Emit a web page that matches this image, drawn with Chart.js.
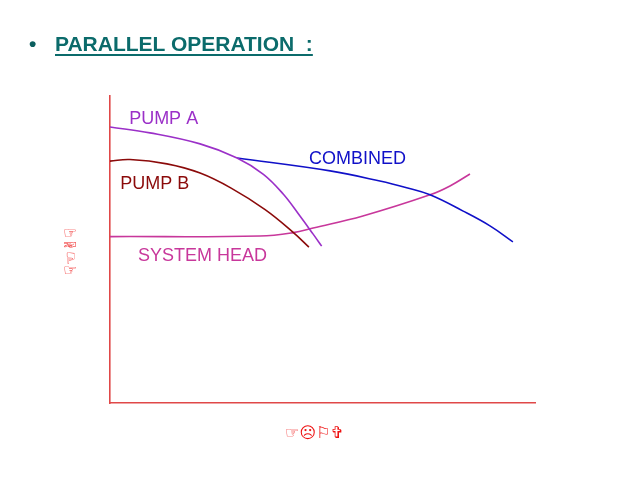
<!DOCTYPE html>
<html>
<head>
<meta charset="utf-8">
<script src="https://cdn.jsdelivr.net/npm/chart.js@4/dist/chart.umd.min.js"></script>
<style>
  html, body { margin: 0; padding: 0; background: #fff; }
  #wrap { position: relative; width: 638px; height: 478px; }
  #wrap canvas { position: absolute; left: 0; top: 0; }
  #title {
    position: absolute; left: 29px; top: 32px;
    font: bold 21px "Liberation Sans", Arial, sans-serif;
    color: #0b6b6b; white-space: pre;
  }
  #title .bullet { display: inline-block; width: 26px; color: #0b5f5f; }
  #title .text { text-decoration: underline; text-underline-offset: 3px; text-decoration-thickness: 2px; }
</style>
</head>
<body>
<div id="wrap">
  <canvas id="chart" width="638" height="478"></canvas>
  <div id="title"><span class="bullet">•</span><span class="text">PARALLEL OPERATION  :</span></div>
</div>
<script>
// flow (x) and head (y), 0..100 on both axes
const pumpAFlow = [0, 9.4, 21.2, 29.9, 36.1, 40.8, 44.7, 47.8, 49.8]
const pumpAHead = [89.9, 88.0, 84.4, 79.8, 74.5, 68.0, 60.9, 55.0, 51.1]

const pumpBFlow = [0, 4.7, 13.4, 21.2, 28.5, 36.5, 43.1, 46.8]
const pumpBHead = [78.8, 79.3, 77.9, 74.9, 70.0, 63.0, 55.6, 50.8]

const combinedFlow = [29.9, 51.8, 63.5, 69.8, 75.3, 83.1, 89.4, 94.8]
const combinedHead = [79.8, 75.6, 72.3, 70.1, 67.8, 62.5, 57.7, 52.5]

const systemFlow = [0, 35.3, 43.1, 47.8, 59.5, 75.3, 80.0, 84.7]
const systemHead = [54.2, 54.4, 55.5, 57.0, 60.9, 67.8, 70.7, 74.6]

const xTitle = '☞☹⚐✞'   // "FLOW" set in a symbol font
const yTitle = '☟☜✌☟'   // "HEAD" set in a symbol font

const toPoints = (xs, ys) => xs.map((x, i) => ({ x: x, y: ys[i] }))

const curve = (label, xs, ys, color) => ({
  label: label,
  data: toPoints(xs, ys),
  borderColor: color,
  backgroundColor: color,
  borderWidth: 1.6,
  pointRadius: 0,
  showLine: true,
  tension: 0.4,
})

// curve names are written next to the lines, axis titles under / beside the axes
const curveLabels = {
  id: 'curveLabels',
  afterDraw(chart) {
    const ctx = chart.ctx
    const xs = chart.scales.x
    const ys = chart.scales.y
    const area = chart.chartArea
    const names = [
      ['PUMP A', 4.5, 92.5, '#9b30c8'],
      ['COMBINED', 46.8, 79.5, '#1010c8'],
      ['PUMP B', 2.4, 71.3, '#8b0a0a'],
      ['SYSTEM HEAD', 6.6, 47.9, '#c8379b'],
    ]
    ctx.save()
    ctx.font = '18px "Liberation Sans", Arial, sans-serif'
    ctx.textBaseline = 'middle'
    ctx.textAlign = 'left'
    names.forEach(([text, x, y, color]) => {
      ctx.fillStyle = color
      ctx.fillText(text, xs.getPixelForValue(x), ys.getPixelForValue(y))
    })

    ctx.fillStyle = '#ee1111'
    ctx.font = 'bold 16px "DejaVu Sans", sans-serif'
    ctx.textAlign = 'center'
    ctx.fillText(xTitle, (area.left + area.right) / 2 - 8, area.bottom + 31)

    ctx.translate(area.left - 38, (area.top + area.bottom) / 2 + 2)
    ctx.rotate(-Math.PI / 2)
    ctx.fillText(yTitle, 0, 0)
    ctx.restore()
  }
}

const axisStyle = {
  min: 0,
  max: 100,
  ticks: { display: false },
  grid: { display: false },
  border: { color: '#e04848', width: 1.6 },
}

new Chart(document.getElementById('chart'), {
  type: 'scatter',
  data: {
    datasets: [
      curve('PUMP A', pumpAFlow, pumpAHead, '#9b30c8'),
      curve('PUMP B', pumpBFlow, pumpBHead, '#8b0a0a'),
      curve('COMBINED', combinedFlow, combinedHead, '#1010c8'),
      curve('SYSTEM HEAD', systemFlow, systemHead, '#c8379b'),
    ],
  },
  options: {
    responsive: false,
    animation: false,
    layout: { padding: { left: 102, right: 103, top: 96, bottom: 67 } },
    plugins: {
      legend: { display: false },
      tooltip: { enabled: false },
    },
    scales: {
      x: { ...axisStyle, type: 'linear' },
      y: { ...axisStyle, type: 'linear' },
    },
  },
  plugins: [curveLabels],
})
</script>
</body>
</html>
